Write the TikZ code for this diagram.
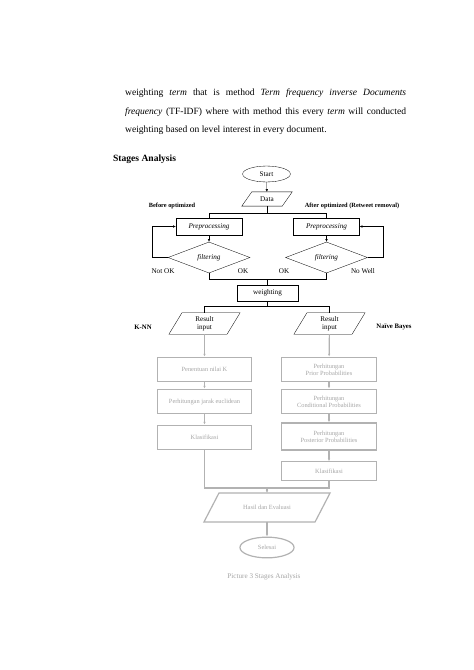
\documentclass[tikz,border=0pt]{standalone}
\usepackage{fontspec}
\setmainfont{Liberation Serif}
\usetikzlibrary{shapes.geometric,arrows.meta}

\begin{document}
\begin{tikzpicture}[x=1.2563pt,y=-1.2563pt,>={Latex[length=3.5pt,width=3pt]},
  body/.style={inner sep=0pt,font=\fontsize{12}{14}\selectfont},
  small/.style={inner sep=0pt,font=\fontsize{9}{9.5}\selectfont},
  tag/.style={inner sep=0pt,font=\fontsize{8}{9}\bfseries\selectfont},
  procbox/.style={draw,rectangle,inner sep=1pt,minimum width=83pt,minimum height=21pt,font=\fontsize{9}{10}\selectfont},
  iobox/.style={rectangle,inner sep=1pt,align=center,font=\fontsize{9}{9.5}\selectfont},
  decide/.style={draw,diamond,inner sep=0pt,minimum width=103pt,minimum height=39pt,font=\fontsize{9}{10}\itshape\selectfont},
  blur/.style={draw=black!30,line width=1.5pt,text=black!35},
  blurbox/.style={procbox,blur,minimum width=119pt,minimum height=31pt,align=center,font=\fontsize{8}{9}\selectfont}]
\fill[white] (0,0) rectangle (474,670);
\useasboundingbox (0,0) rectangle (474,670);

% text above the chart
\node[body,anchor=base west] (L1) at (125,95.5) {\makebox[353pt][s]{weighting \textit{term} that is method \textit{Term frequency inverse Documents}}};
\node[body,anchor=base west] (L2) at (125,114) {\makebox[353pt][s]{\textit{frequency} (TF-IDF) where with method this every \textit{term} will conducted}};
\node[body,anchor=base west] (L3) at (125,132.5) {weighting based on level interest in every document.};
\node[body,anchor=base west] (H) at (113,161) {\textbf{Stages Analysis}};

% chart
\node[draw,ellipse,minimum width=60pt,minimum height=20pt,inner sep=0pt,font=\fontsize{9}{10}\selectfont] (S) at (266.5,174) {Start};
\node[iobox,minimum width=63pt,minimum height=17.5pt] (D) at (267,199) {Data};
\node[procbox] (P1) at (209,226.5) {\textit{Preprocessing}};
\node[procbox] (P2) at (326.5,226.5) {\textit{Preprocessing}};
\node[decide] (F1) at (209,257.5) {filtering};
\node[decide] (F2) at (326.5,257.5) {filtering};
\node[procbox,minimum width=77pt,minimum height=20pt] (W) at (267.5,293) {weighting};
\node[iobox,minimum width=89pt,minimum height=26.5pt] (R1) at (204.5,323.5) {Result\\input};
\node[iobox,minimum width=89pt,minimum height=26.5pt] (R2) at (329.5,323.5) {Result\\input};
\foreach \n/\s in {D/10,R1/13,R2/13}
  \draw ([xshift=\s*1.2563pt]\n.north west) -- (\n.north east) -- ([xshift=-\s*1.2563pt]\n.south east) -- (\n.south west) -- cycle;

\node[tag] (T1) at (172,206) {Before optimized};
\node[tag] (T2) at (352,206) {After optimized (Retweet removal)};
\node[small] (N1) at (163,271) {Not OK};
\node[small] (O1) at (243,271) {OK};
\node[small] (O2) at (284,271) {OK};
\node[small] (N2) at (363,271) {No Well};
\node[tag,font=\fontsize{8.5}{9}\bfseries\selectfont] (T3) at (143,327) {K-NN};
\node[tag,font=\fontsize{8.5}{9}\bfseries\selectfont] (T4) at (394,327) {Naïve Bayes};

\draw[->] (S) -- (D);
\draw (D.south) -- ++(0,7);
\draw (P1.north) -- ++(0,-5) -| (P2.north);
\draw[->] (P1) -- (F1);
\draw[->] (P2) -- (F2);
\draw[->] (F1.west) -- ++(-16,0) |- (P1.west);
\draw[->] (F2.east) -- ++(16,0) |- (P2.east);
\draw (F1.south) -- ++(0,6) -| (F2.south);
\draw (W.north) -- ++(0,-6);
\draw (W.south) -- ++(0,5);
\draw (R1.north) -- ++(0,-7) -| (R2.north);

% blurred lower part
\node[blurbox] (K1) at (204.5,369.5) {Penentuan nilai K};
\node[blurbox] (K2) at (204.5,401.5) {Perhitungan jarak euclidean};
\node[blurbox] (K3) at (204.5,437.5) {Klasifikasi};
\node[blurbox] (B1) at (329,369.5) {Perhitungan\\Prior Probabilities};
\node[blurbox] (B2) at (329,401.5) {Perhitungan\\Conditional Probabilities};
\node[blurbox,minimum height=34pt] (B3) at (329,436.5) {Perhitungan\\Posterior Probabilities};
\node[blurbox,minimum height=23pt] (B4) at (329,471) {Klasifikasi};
\node[iobox,text=black!35,minimum width=158pt,minimum height=36pt,font=\fontsize{8}{9}\selectfont] (HE) at (267,507.5) {Hasil dan Evaluasi};
\draw[blur] ([xshift=15*1.2563pt]HE.north west) -- (HE.north east) -- ([xshift=-15*1.2563pt]HE.south east) -- (HE.south west) -- cycle;
\node[draw,ellipse,blur,minimum width=68pt,minimum height=26pt,inner sep=0pt,font=\fontsize{8}{9}\selectfont] (E) at (267,547.5) {Selesai};
\node[small,text=black!35] (C) at (264,577) {Picture 3 Stages Analysis};
\coordinate (J) at (267,488);

\draw[blur,->] (R1) -- (K1);
\draw[blur,->] (K1) -- (K2);
\draw[blur,->] (K2) -- (K3);
\draw[blur,->] (R2) -- (B1);
\draw[blur,->] (B1) -- (B2);
\draw[blur,->] (B2) -- (B3);
\draw[blur,->] (B3) -- (B4);
\draw[blur] (K3.south) |- (B4.south |- J) -- (B4.south);
\draw[blur,->] (J) -- (HE);
\draw[blur,->] (HE) -- (E);
\end{tikzpicture}
\end{document}
